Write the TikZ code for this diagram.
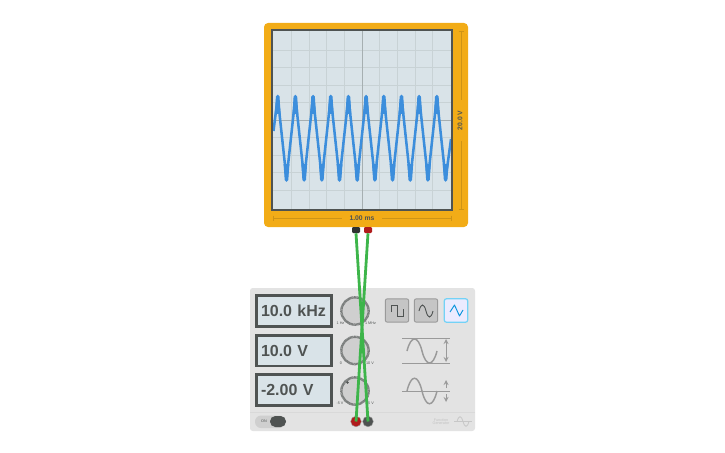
\documentclass[tikz,border=0pt]{standalone}
\usepackage{fontspec}
\setmainfont{Liberation Sans}
\usepackage{xcolor}
\definecolor{scopeorange}{HTML}{F2AC17}
\definecolor{scopetick}{HTML}{CE9416}
\definecolor{screenblue}{HTML}{D9E3E8}
\definecolor{framegray}{HTML}{4F5352}
\definecolor{gridgray}{HTML}{C8D2D5}
\definecolor{gridmajor}{HTML}{A6AFB1}
\definecolor{wavelblue}{HTML}{3C8EDC}
\definecolor{wiregreen}{HTML}{3DB54A}
\definecolor{genpanel}{HTML}{E3E3E3}
\definecolor{knobgray}{HTML}{CFCFCF}
\definecolor{iconline}{HTML}{9A9A9A}
\definecolor{plugred}{HTML}{B01C1C}
\tikzset{
  readout/.style={draw=framegray,line width=2pt,fill=screenblue,minimum width=56.5pt,minimum height=23pt,inner sep=0pt,font=\bfseries\fontsize{12}{14}\selectfont,text=framegray,align=left,text width=49.5pt},
  knob/.style={circle,draw=framegray!75!white,dash pattern=on .7pt off .3pt,line width=1.8pt,fill=knobgray,minimum size=20.5pt,inner sep=0pt},
  wavebutton/.style={draw=iconline,rounded corners=1.5pt,line width=.7pt,fill=knobgray!95!black,minimum size=17.5pt,inner sep=0pt},
  jack/.style={circle,draw=genpanel!70!black,line width=.3pt,minimum size=8pt,inner sep=0pt},
  plug/.style={minimum width=6pt,minimum height=4.5pt,inner sep=0pt,rounded corners=.8pt},
  tinytext/.style={font=\fontsize{2.8}{3}\selectfont,text=framegray,inner sep=0pt},
  scopetext/.style={font=\bfseries\fontsize{5.1}{6}\selectfont,text=framegray,inner sep=0pt},
  wire/.style={wiregreen,line width=2.1pt},
  icon/.style={iconline,line width=.7pt}
}
\begin{document}
\begin{tikzpicture}[x=.75pt,y=-.75pt]
   \useasboundingbox (0,0) rectangle (725,453);
   % oscilloscope
   \fill [scopeorange,rounded corners=3pt] (264,23) rectangle (468,227);
   \fill [screenblue] (272,30) rectangle (452,210);
   \foreach \n in {1,...,9} {
      \draw [gridgray,line width=.45pt] (273.4+17.7*\n,31) -- (273.4+17.7*\n,209);
      \draw [gridgray,line width=.45pt] (273,32.5+17.5*\n) -- (451,32.5+17.5*\n);
   }
   \draw [gridmajor,line width=.7pt] (362,31) -- (362,209);
   \draw [gridmajor,line width=.7pt] (273,120) -- (451,120);
   \draw [wavelblue,line width=1.9pt,line join=round] (273.5,131)
      \foreach \n in {0,...,9} { -- (277.7+17.68*\n,97) -- (286.5+17.68*\n,179) } -- (451,139);
   \foreach \n in {0,...,9} {
      \fill [wavelblue] (274.8+17.68*\n,114) -- (275.9+17.68*\n,96.5) arc[start angle=180,end angle=360,radius=1.8] -- (280.6+17.68*\n,114) -- cycle;
      \fill [wavelblue] (283.6+17.68*\n,164) -- (284.7+17.68*\n,180) arc[start angle=180,end angle=0,radius=1.8] -- (289.4+17.68*\n,164) -- cycle;
   }
   \draw [framegray,line width=2.1pt] (272,30) rectangle (452,210);
   % scale marks
   \draw [scopetick,line width=.5pt] (273,215.5) -- (273,220.5) (273,218) -- (342,218) (382,218) -- (451,218) (451,215.5) -- (451,220.5);
   \draw [scopetick,line width=.5pt] (461,31) -- (461,100) (461,141) -- (461,209) (458.5,209) -- (463.5,209) (458.5,31) -- (463.5,31);
   \node [scopetext] (timelabel) at (362,218) {1.00 ms};
   \node [scopetext,rotate=90] (voltlabel) at (460,120.5) {20.0 V};
   % function generator
   \fill [genpanel,rounded corners=2pt] (250,288) rectangle (475,431);
   \draw [gray!30,line width=.4pt] (250,412) -- (475,412);
   \node [readout] (freqbox) at (294,311) {10.0 kHz};
   \node [readout] (ampbox) at (294,350.5) {10.0 V};
   \node [readout] (offsetbox) at (294,390) {-2.00 V};
   \node [knob] (freqknob) at (355,311) {};
   \node [knob] (ampknob) at (355,350.5) {};
   \node [knob] (offsetknob) at (355,391) {};
   \fill [framegray] (347.5,382.5) circle (1.1pt);
   \node [tinytext] (freqlow) at (340.5,323.5) {1 Hz};
   \node [tinytext] (freqhigh) at (370.5,323.5) {1 MHz};
   \node [tinytext] (amplow) at (341,363) {0};
   \node [tinytext] (amphigh) at (370,363) {10 V};
   \node [tinytext] (offsetlow) at (340,403) {-5 V};
   \node [tinytext] (offsethigh) at (371,403) {5 V};
   \node [wavebutton] (squarebtn) at (397,310.5) {};
   \node [wavebutton] (sinebtn) at (426,310.5) {};
   \node [wavebutton,fill=white!92!blue,draw=cyan!55!white,line width=.9pt] (trianglebtn) at (456,310.5) {};
   \draw [framegray,line width=.7pt] (391,312) -- (391,305) -- (397.5,305) -- (397.5,316) -- (403,316) -- (403,309);
   \draw [framegray,line width=.7pt] (419,311) .. controls (421,303) and (424,303) .. (426,311) .. controls (428,319) and (431,319) .. (433,311);
   \draw [cyan!80!blue,line width=.7pt,line join=round] (450,312) -- (454.5,305) -- (459.5,316) -- (463,310);
   % amplitude icons
   \draw [icon] (402,338) -- (450,338) (402,363) -- (450,363);
   \draw [icon,line width=1.1pt] (407,351) .. controls (411,335) and (418,335) .. (422,351) .. controls (426,367) and (433,367) .. (437,351);
   \draw [icon,<->,>=stealth] (446,339) -- (446,362);
   \draw [icon] (402,391) -- (450,391);
   \draw [icon,line width=1.1pt] (407,391) .. controls (411,374) and (418,374) .. (422,391) .. controls (426,408) and (433,408) .. (437,391);
   \draw [icon,->,>=stealth] (446,388) -- (446,380);
   \draw [icon,->,>=stealth] (446,394) -- (446,402);
   % bottom row
   \fill [knobgray,rounded corners=4.5pt] (255,415.5) rectangle (285,428);
   \fill [framegray,rounded corners=4pt] (270,416) rectangle (286,427);
   \node [tinytext] (onlabel) at (264,421.5) {ON};
   \node [font=\fontsize{2.8}{3}\selectfont,text=iconline!60!white,align=center,inner sep=0pt] (genlogo) at (441,421.5) {Function\\[-.3pt]Generator};
   \draw [iconline!55!white,line width=.5pt] (454,421.5) -- (472,421.5);
   \draw [iconline!55!white,line width=.6pt] (457,421.5) .. controls (459,415) and (461,415) .. (463,421.5) .. controls (465,428) and (467,428) .. (469,421.5);
   \node [jack,fill=plugred] (redjack) at (356,421.5) {};
   \node [jack,fill=framegray] (blackjack) at (368,421.5) {};
   \node [plug,fill=framegray!60!black] (blackplug) at (356,230) {};
   \node [plug,fill=plugred] (redplug) at (368,230) {};
   % leads
   \draw [wire] (blackplug.south) -- (blackjack.center);
   \draw [wire] (redplug.south) -- (redjack.center);
\end{tikzpicture}
\end{document}
